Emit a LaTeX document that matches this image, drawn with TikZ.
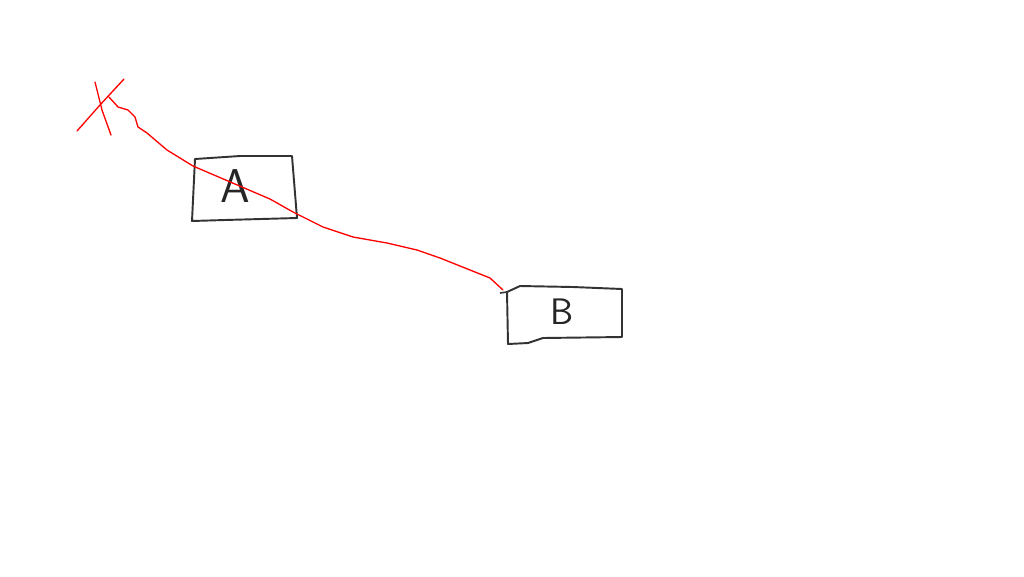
\documentclass[tikz,border=0pt]{standalone}
\usetikzlibrary{calc}
\begin{document}
\begin{tikzpicture}[x=0.02cm,y=-0.02cm,
  sketch/.style={draw=black!80,line width=1.1pt,line join=round},
  redline/.style={draw=red,line width=0.75pt,line join=round,line cap=round},
  lbl/.style={font=\sffamily,text=black!85,inner sep=0pt}]
\useasboundingbox[fill=white] (0,0) rectangle (1024,576);
% box A
\draw[sketch] (195,159) -- (210,158) -- (225,157) -- (240,156) -- (292,156) -- (297,218) -- (225,220) -- (192,221) -- cycle;
\node[lbl,font=\sffamily\fontsize{27}{27}\selectfont] (A) at (235,186) {A};
% box B
\draw[sketch] (507,292) -- (520,286) -- (573,287) -- (622,289) -- (622,337) -- (543,338) -- (528,343) -- (508,344) -- cycle;
\draw[sketch,line width=0.9pt] (500,293) -- (507,292);
\node[lbl,font=\sffamily\fontsize{21}{21}\selectfont] (B) at (562,312) {B};
% X mark
\coordinate (x1) at (77,131);
\coordinate (x2) at (124,79);
\coordinate (x3) at (95,82);
\coordinate (x4) at (111,135);
\draw[redline] (x1) -- (100,105) -- (x2);
\draw[redline] (x3) -- (102,110) -- (x4);
% red connector
\coordinate (s) at (109,97);
\coordinate (e) at (503,290);
\draw[redline] (s) -- (118,107) -- (128,110) -- (135,117) -- (138,127) -- (147,133)
  -- (167,150) -- (193,166) -- (242,187) -- (270,199) -- (293,212) -- (297,214)
  -- (323,227) -- (353,237) -- (387,243) -- (417,250) -- (440,258) -- (470,270)
  -- (490,278) -- (e);
\end{tikzpicture}
\end{document}
